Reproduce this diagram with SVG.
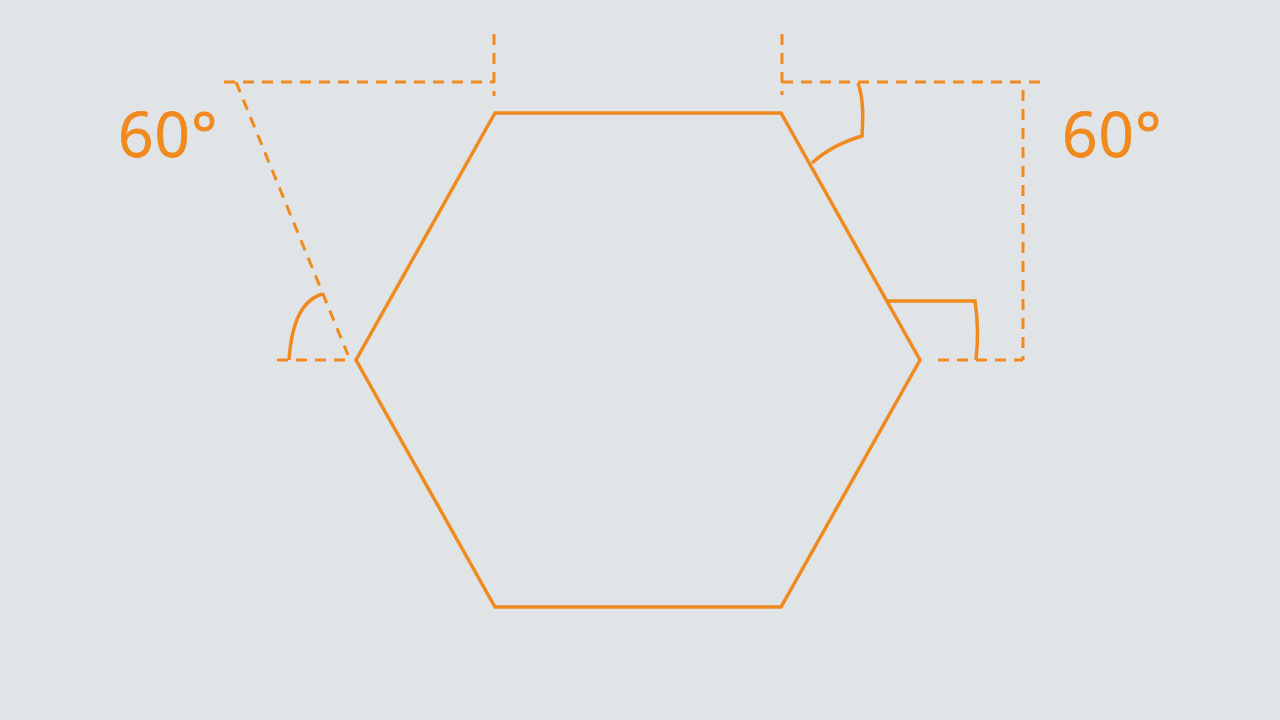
<svg xmlns="http://www.w3.org/2000/svg" width="1280" height="720" viewBox="0 0 1280 720">
<style>
.solid{fill:none;stroke:#F08A1E;stroke-width:3.5;stroke-linejoin:miter}
.dash{fill:none;stroke:#F08A1E;stroke-width:3;stroke-dasharray:11 8}
.lbl{font-family:"Open Sans","Noto Sans",sans-serif;font-size:62px;fill:#F08A1E;stroke:#F08A1E;stroke-width:0.8;letter-spacing:1px}
</style>
<rect width="1280" height="720" fill="#E1E4E6"/>
<g id="hexagon">
<polygon class="solid" points="495,113 781,113 920,360 781,607 495,607 356,360"/>
</g>
<g id="connectors">
<line class="dash" x1="494" y1="34" x2="494" y2="96"/>
<line class="dash" x1="224" y1="82" x2="494" y2="82"/>
<line class="dash" x1="236" y1="82" x2="348" y2="355"/>
<line class="dash" x1="277" y1="360" x2="350" y2="360"/>
<line class="dash" x1="782" y1="34" x2="782" y2="95"/>
<line class="dash" x1="782" y1="82" x2="1040" y2="82"/>
<line class="dash" x1="1023" y1="90" x2="1023" y2="360"/>
<line class="dash" x1="938" y1="360" x2="1023" y2="360"/>
</g>
<g id="angle-left">
<path class="solid" d="M289,360 C291,330 298,302 322,294" />
</g>
<g id="angle-right-top">
<path class="solid" d="M858,83 C864,100 863,120 862,136 C842,142 826,150 812,163"/>
</g>
<g id="angle-right-bottom">
<path class="solid" d="M888,301 L975,301 C978,320 978,342 976,360"/>
</g>
<g id="label-left"><text class="lbl" x="118" y="157">60°</text></g>
<g id="label-right"><text class="lbl" x="1062" y="157">60°</text></g>
</svg>
